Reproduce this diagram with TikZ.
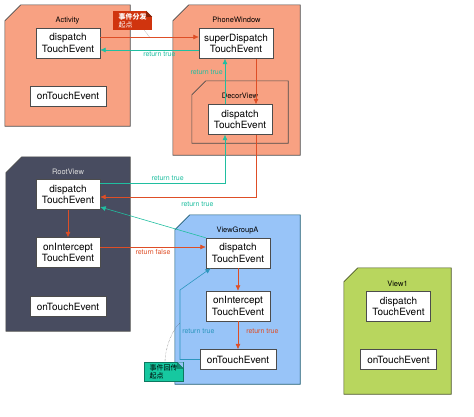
\documentclass[tikz,border=0pt]{standalone}
\usepackage{fontspec}
\setmainfont{TeX Gyre Heros}
\newfontfamily\cjk{Noto Sans CJK SC}
\usetikzlibrary{positioning, arrows.meta}

\definecolor{salmon}{RGB}{248,161,130}
\definecolor{slate}{RGB}{72,76,96}
\definecolor{skyblue}{RGB}{152,196,248}
\definecolor{lime}{RGB}{184,214,94}
\definecolor{flowred}{RGB}{222,78,38}
\definecolor{flowteal}{RGB}{32,190,160}
\definecolor{flowblue}{RGB}{44,150,190}
\definecolor{notered}{RGB}{208,52,14}
\definecolor{noteteal}{RGB}{22,200,160}

\tikzset{
  panel/.style = {inner sep = 0pt},
  paneltitle/.style = {font = \fontsize{7.5}{9}\selectfont},
  method/.style = {draw = black!70, fill = white, align = center, inner sep = 0pt,
    minimum width = 64pt, minimum height = 30pt, font = \fontsize{10}{11.5}\selectfont},
  handler/.style = {method, minimum width = 76pt, minimum height = 20pt},
  note/.style = {inner sep = 1.5pt, align = left,
    minimum width = 39pt, minimum height = 19pt, font = \fontsize{7}{8}\cjk},
  call/.style = {->, draw = flowred, line width = 0.6pt},
  ret/.style = {->, draw = flowteal, line width = 0.6pt},
  back/.style = {->, draw = flowblue, line width = 0.6pt},
  tag/.style = {font = \fontsize{7}{8}\selectfont, inner sep = 2pt}
}

\begin{document}
\begin{tikzpicture}[x = 1pt, y = -1pt, >= {Latex[length = 5.5pt, width = 5pt]}, node distance = 53pt, on grid]
  \useasboundingbox (0,0) rectangle (474,416);

  % containers
  \node[panel, minimum width = 125pt, minimum height = 121pt] (activity) at (67.5,65.5) {};
  \node[panel, minimum width = 127pt, minimum height = 150pt] (phone) at (236.5,80) {};
  \node[panel, minimum width = 96pt, minimum height = 62pt] (decor) at (240,112) {};
  \node[panel, minimum width = 124pt, minimum height = 174pt] (root) at (68,244) {};
  \node[panel, minimum width = 125pt, minimum height = 169pt] (group) at (237.5,299.5) {};
  \node[panel, minimum width = 107pt, minimum height = 126pt] (view) at (397.5,331) {};
  \foreach \p/\c/\d/\k in {activity/salmon/black!70/16, phone/salmon/black!70/16,
      decor/salmon/black!70/14, root/slate/black!70/16,
      group/skyblue/flowblue!60!black/15, view/lime/lime!40!black/14}
    \filldraw[fill = \c, draw = \d, line width = 0.6pt]
      ([yshift = -\k pt]\p.north west) -- ([xshift = \k pt]\p.north west) -- (\p.north east)
      -- (\p.south east) -- (\p.south west) -- cycle;
  \node[paneltitle] (activity-title) [below = 9pt of activity.north] {Activity};
  \node[paneltitle] (phone-title) [below = 9pt of phone.north] {PhoneWindow};
  \node[paneltitle] (decor-title) [below = 9pt of decor.north] {DecorView};
  \node[paneltitle, text = black!12] (root-title) [below = 9pt of root.north] {RootView};
  \node[paneltitle] (group-title) [below = 9pt of group.north] {ViewGroupA};
  \node[paneltitle] (view-title) [below = 10pt of view.north] {View1};

  % methods
  \node[method] (act-dispatch) at (68,43) {dispatch\\TouchEvent};
  \node[handler] (act-touch) [below = 53pt of act-dispatch] {onTouchEvent};
  \node[method, minimum width = 74pt] (phone-dispatch) at (236,43.5) {superDispatch\\TouchEvent};
  \node[method] (decor-dispatch) at (240,119.5) {dispatch\\TouchEvent};
  \node[method] (root-dispatch) at (68,194.5) {dispatch\\TouchEvent};
  \node[method] (root-intercept) [below = 58pt of root-dispatch] {onIntercept\\TouchEvent};
  \node[handler] (root-touch) [below = 54pt of root-intercept] {onTouchEvent};
  \node[method] (group-dispatch) at (238,253) {dispatch\\TouchEvent};
  \node[method] (group-intercept) [below = of group-dispatch] {onIntercept\\TouchEvent};
  \node[handler] (group-touch) [below = 53.5pt of group-intercept] {onTouchEvent};
  \node[method] (view-dispatch) at (398.5,306.5) {dispatch\\TouchEvent};
  \node[handler] (view-touch) [below = of view-dispatch] {onTouchEvent};

  % dispatch flow
  \draw[call] ([yshift = 6pt]act-dispatch.east) -- coordinate[pos = 0.5] (send-hit)
    ([yshift = 6pt]act-dispatch.east -| phone-dispatch.west);
  \draw[call] ([xshift = 20pt]phone-dispatch.south) -- ([xshift = 20pt]phone-dispatch.south |- decor-dispatch.north);
  \draw[call] ([xshift = 16pt]decor-dispatch.south) |- ([yshift = -2.5pt]root-dispatch.east);
  \draw[call] (root-dispatch) -- (root-intercept);
  \draw[call] ([yshift = 5.5pt]root-intercept.east) -- node[tag, below, text = flowred] {return false}
    ([yshift = 5.5pt]root-intercept.east -| group-dispatch.west);
  \draw[call] (group-dispatch) -- (group-intercept);
  \draw[call] (group-intercept) -- node[tag, right, xshift = 6pt, pos = 0.35, text = flowred] {return true} (group-touch);

  % return flow
  \coordinate (turn) at (180,290);
  \draw[back] (group-touch.west) -| coordinate[pos = 0.765] (back-hit)
    node[tag, right, pos = 0.7, text = flowblue] {return true} (turn)
    -- ([xshift = 5pt]group-dispatch.south west);
  \draw[ret] (group-dispatch.north west) -- node[tag, pos = 0.08, yshift = 31pt, text = flowteal] {return true}
    ([yshift = -12.5pt]root-dispatch.east);
  \draw[ret] ([yshift = 11.5pt]root-dispatch.east) -| node[tag, above, pos = 0.27, text = flowteal] {return true}
    ([xshift = -15pt]decor-dispatch.south);
  \draw[ret] ([xshift = -15pt]decor-dispatch.north) -- node[tag, left, pos = 0.7, text = flowteal] {return true}
    ([xshift = -15pt]decor-dispatch.north |- phone-dispatch.south);
  \draw[ret] ([yshift = -6.5pt]phone-dispatch.west) -- node[tag, below, pos = 0.4, text = flowteal] {return true}
    ([yshift = -6.5pt]phone-dispatch.west -| act-dispatch.east);

  % notes
  \node[note, fill = notered, text = white] (send-note) at (132.5,20.5) {\bfseries 事件分发\\起点};
  \fill[white] (send-note.north east) -- ([xshift = -6pt]send-note.north east) -- ([yshift = -6pt]send-note.north east) -- cycle;
  \fill[notered!65!black] ([xshift = -6pt]send-note.north east)
    -- ([yshift = -6pt]send-note.north east) -- ([xshift = -6pt, yshift = -6pt]send-note.north east) -- cycle;
  \draw[densely dotted, black!60] ([xshift = -8pt]send-note.south east) -- (send-hit);
  \node[note, fill = noteteal, draw = noteteal!60!black] (back-note) at (163.5,372) {事件回传\\起点};
  \fill[skyblue] (back-note.north east) -- ([xshift = -6pt]back-note.north east) -- ([yshift = -6pt]back-note.north east) -- cycle;
  \filldraw[fill = noteteal!70!black, draw = noteteal!60!black] ([xshift = -6pt]back-note.north east)
    -- ([yshift = -6pt]back-note.north east) -- ([xshift = -6pt, yshift = -6pt]back-note.north east) -- cycle;
  \draw[densely dotted, black!70] ([xshift = 1.5pt]back-note.north) .. controls +(0,-15) and +(-8,8) .. (back-hit);
\end{tikzpicture}
\end{document}
